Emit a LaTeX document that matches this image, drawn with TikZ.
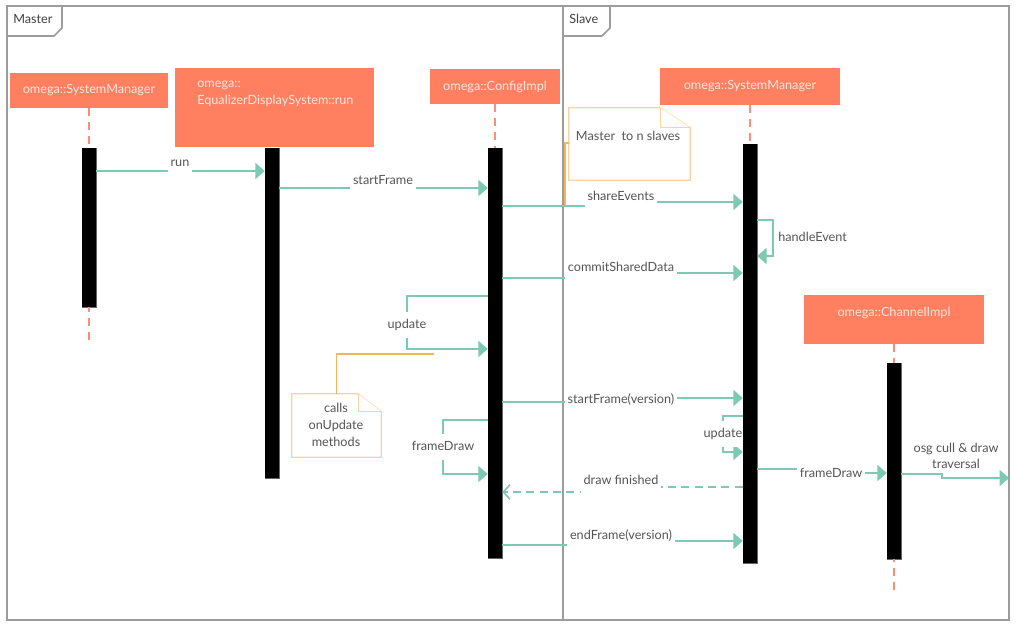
\documentclass[tikz,border=0pt]{standalone}
\usepackage{fontspec}
\setmainfont{Lato}
\usetikzlibrary{arrows.meta,fit,calc}
\definecolor{coral}{HTML}{FF7F61}
\definecolor{hdrtxt}{HTML}{FFE6DE}
\definecolor{lifec}{HTML}{FF8C75}
\definecolor{tealc}{HTML}{7CC9B4}
\definecolor{lblc}{HTML}{555555}
\definecolor{notebd}{HTML}{F9D39F}
\definecolor{notecon}{HTML}{F6B35E}
\definecolor{frmc}{HTML}{9C9C9C}
\begin{document}
\begin{tikzpicture}[x=0.75pt,y=-0.75pt, font=\fontsize{9.5}{12.5}\selectfont,
 hdr/.style={fill=coral, draw=none, inner sep=0pt},
 hdrtext/.style={text=hdrtxt, inner sep=0pt},
 bar/.style={fill=black, draw=black!60, line width=0.4pt, inner sep=0pt},
 lifeline/.style={draw=lifec, line width=1.8pt, dash pattern=on 6pt off 4.5pt},
 msg/.style={draw=tealc, line width=1.2pt, -{Triangle[length=7pt,width=12pt]}},
 ret/.style={draw=tealc, line width=1.2pt, dash pattern=on 6pt off 4pt, -{Straight Barb[length=5pt,width=11pt,line width=1.2pt]}},
 lab/.style={text=lblc, fill=white, inner xsep=2pt, inner ysep=5.5pt, text height=7pt, text depth=2pt},
 plainlab/.style={text=lblc, inner sep=0pt},
 framebox/.style={draw=frmc, line width=1.3pt},
 notebox/.style={draw=notebd, line width=0.8pt, fill=white},
 notelink/.style={draw=notecon, line width=1.2pt},
]
\useasboundingbox (0,0) rectangle (1024,627);
\fill[white] (0,0) rectangle (1024,627);

% frames
\draw[framebox] (7,6) rectangle (563,620);
\draw[framebox] (563,6) rectangle (1009,620);
\draw[framebox] (7,36) -- (54,36) -- (62,28) -- (62,6);
\node[plainlab, text=black!75, anchor=west] (tmaster) at (13,19) {Master};
\draw[framebox] (563,36) -- (602,36) -- (610,28) -- (610,6);
\node[plainlab, text=black!75, anchor=west] (tslave) at (569,19) {Slave};

% headers
\node[hdr, fit={(10,73) (168,108)}] (h1) {};
\node[hdrtext] at (h1.center) {omega::SystemManager};
\node[hdr, fit={(175,68) (374,147)}] (h2) {};
\node[hdrtext, align=left, anchor=west] at (197,94) {omega::\\EqualizerDisplaySystem::run};
\node[hdr, fit={(430,69) (560,104)}] (h3) {};
\node[hdrtext] at (h3.center) {omega::ConfigImpl};
\node[hdr, fit={(660,68) (840,105)}] (h4) {};
\node[hdrtext] at (h4.center) {omega::SystemManager};
\node[hdr, fit={(804,295) (984,344)}] (h5) {};
\node[hdrtext] at (894,313) {omega::ChannelImpl};

% activation bars (positions)
\node[bar, fit={(82,148) (96,307)}] (b1) {};
\node[bar, fit={(265,148) (279,478)}] (b2) {};
\node[bar, fit={(488,148) (502,558)}] (b3) {};
\node[bar, fit={(743,144) (757,563)}] (b4) {};
\node[bar, fit={(887,363) (901,559)}] (b5) {};

% lifelines
\coordinate (e1) at (89,343);
\coordinate (e5) at (894,595);
\draw[lifeline] (h1.south) -- (e1);
\draw[lifeline] (h3.south) -- (b3.north);
\draw[lifeline] (h4.south) -- (b4.north);
\draw[lifeline] (h5.south) -- (e5);

% notes
\node[inner sep=0pt, fit={(292,394) (381,457)}] (n1) {};
\draw[notebox] (n1.north west) -- ($(n1.north east)+(-23,0)$) -- ($(n1.north east)+(0,18)$) -- (n1.south east) -- (n1.south west) -- cycle;
\draw[notebox] ($(n1.north east)+(-23,0)$) |- ($(n1.north east)+(0,18)$);
\node[plainlab, align=center] (n1t) at (336,425) {calls\\onUpdate\\methods};
\coordinate (c1) at (434,354);
\draw[notelink] (n1.north) |- (c1);

\node[inner sep=0pt, fit={(569,108) (690,180)}] (n2) {};
\draw[notebox] (n2.north west) -- ($(n2.north east)+(-30,0)$) -- ($(n2.north east)+(0,20)$) -- (n2.south east) -- (n2.south west) -- cycle;
\draw[notebox] ($(n2.north east)+(-30,0)$) |- ($(n2.north east)+(0,20)$);
\node[plainlab] (n2t) at (628,136) {Master~ to n slaves};
\coordinate (c2) at (565,206);
\draw[notelink] (n2.west |- 0,143) -| (c2);

% messages
\draw[msg] (b1.east |- 0,171) -- (b2.west |- 0,171);
\node[lab] (l1) at (180,163) {run};

\draw[msg] (b2.east |- 0,188) -- (b3.west |- 0,188);
\node[lab] (l2) at (383,181) {startFrame};

\draw[msg] (b3.east |- 0,206) -- (621,206) -- (621,202) -- (b4.west |- 0,202);
\node[lab] (l3) at (621,197) {shareEvents};

\draw[msg] (b4.east |- 0,220) -- (773,220) -- (773,256) -- (b4.east |- 0,256);
\node[plainlab, anchor=west] (l4) at (778,237) {handleEvent};

\draw[msg] (b3.east |- 0,278) -- (621,278) -- (621,273) -- (b4.west |- 0,273);
\node[lab] (l5) at (621,268) {commitSharedData};

\draw[msg] (b3.west |- 0,296) -- (407,296) -- (407,349) -- (b3.west |- 0,349);
\node[lab] (l6) at (407,325) {update};

\draw[msg] (b3.east |- 0,402) -- (621,402) -- (621,398) -- (b4.west |- 0,398);
\node[lab] (l7) at (621,400) {startFrame(version)};

\draw[msg] (b4.west |- 0,416) -- (723,416) -- (723,452) -- (b4.west |- 0,452);
\node[lab] (l8) at (723,434) {update};

\draw[msg] (b3.west |- 0,420) -- (443,420) -- (443,474) -- (b3.west |- 0,474);
\node[lab] (l9) at (443,447) {frameDraw};

\draw[ret] (b4.west |- 0,487) -- (621,487) -- (621,492) -- (b3.east |- 0,492);
\node[lab] (l10) at (621,481) {draw finished};

\draw[msg] (b4.east |- 0,469) -- (831,469) -- (831,473) -- (b5.west |- 0,473);
\node[lab] (l11) at (831,474) {frameDraw};

\coordinate (e6) at (1009,478);
\draw[msg] (b5.east |- 0,474) -- (942,474) -- (942,478) -- (e6);
\node[plainlab, align=center] (l12) at (956,456) {osg cull \& draw\\traversal};

\draw[msg] (b3.east |- 0,545) -- (621,545) -- (621,541) -- (b4.west |- 0,541);
\node[lab] (l13) at (621,536) {endFrame(version)};

% bars on top
\foreach \b in {b1,b2,b3,b4,b5}
  \fill[black] (\b.south west) rectangle (\b.north east);
\end{tikzpicture}
\end{document}
